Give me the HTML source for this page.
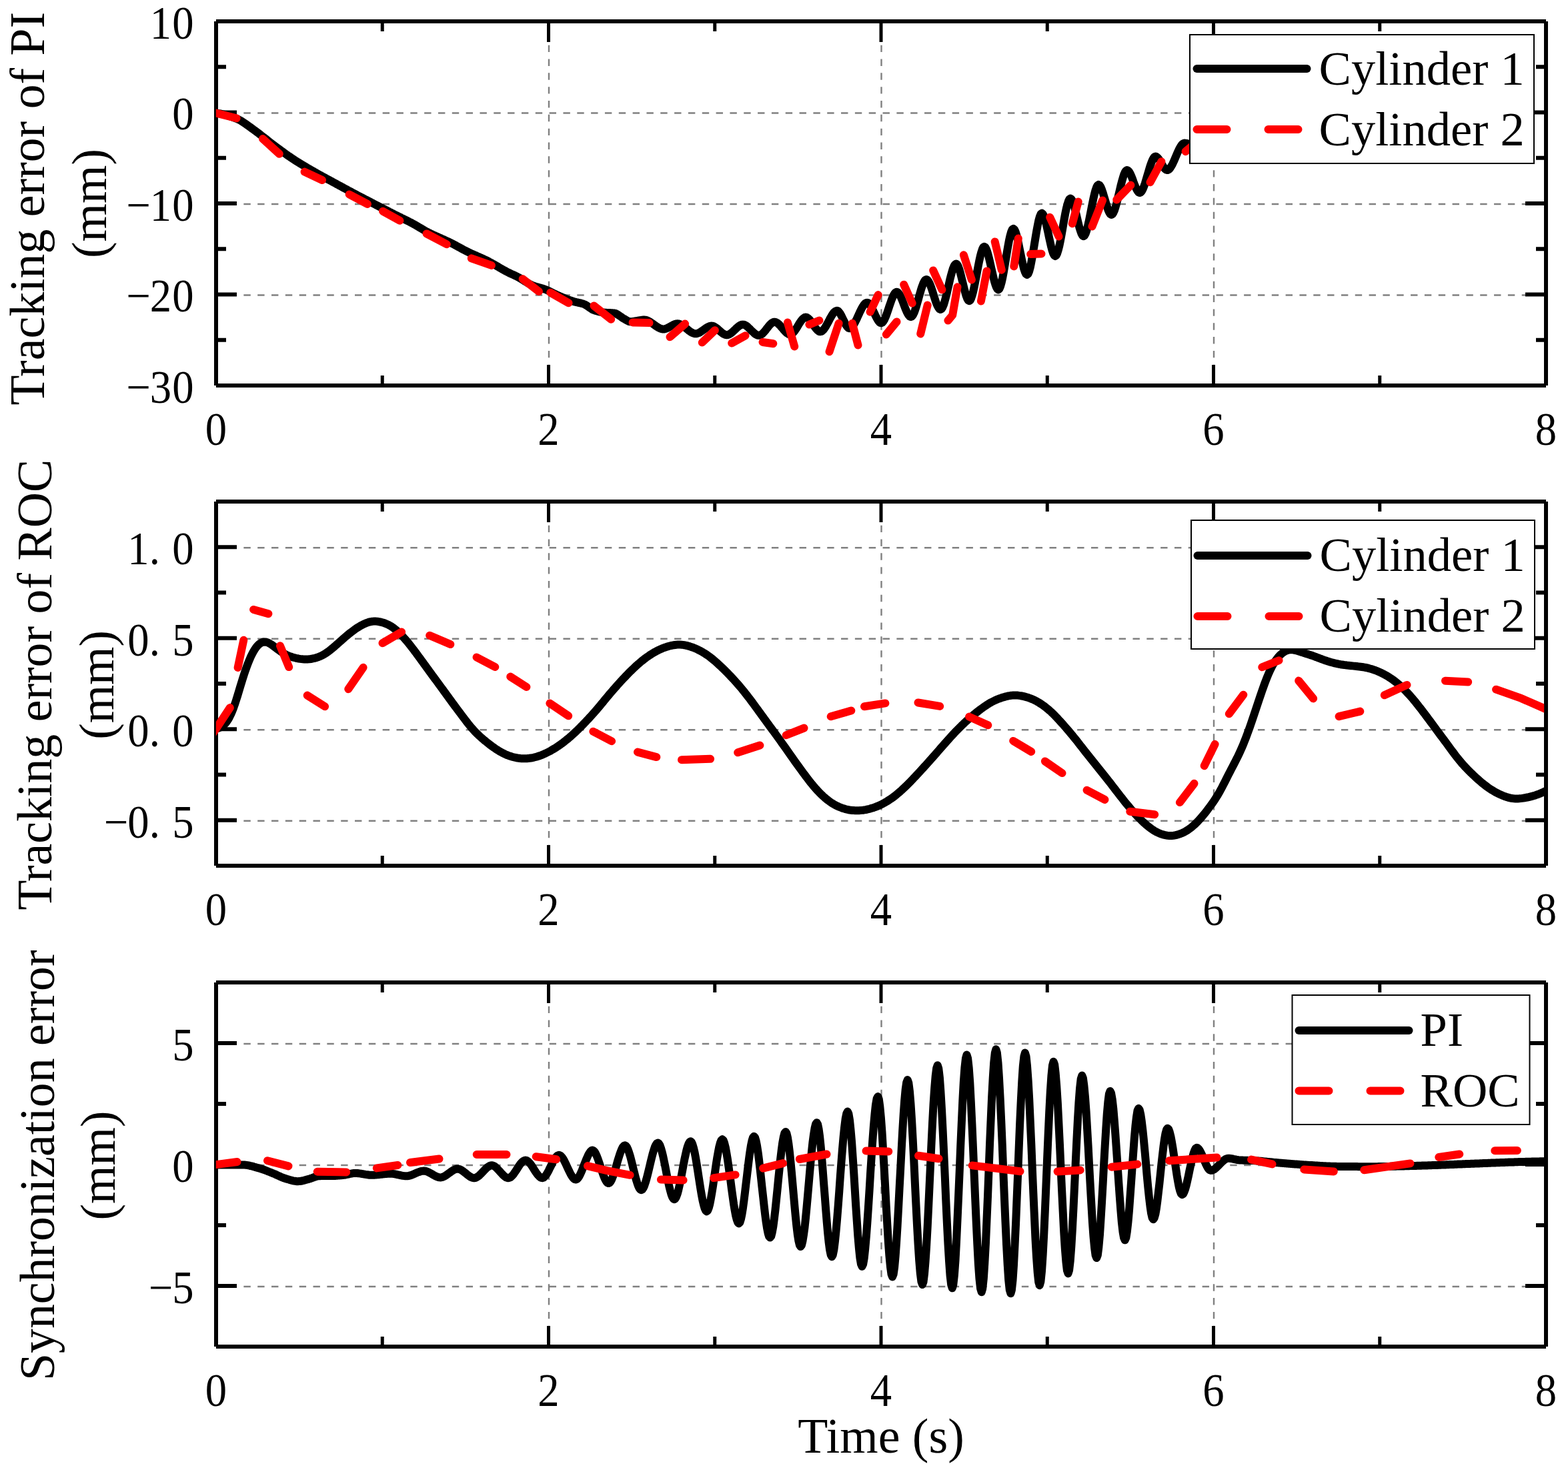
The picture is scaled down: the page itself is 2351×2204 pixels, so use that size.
<!DOCTYPE html>
<html lang="en">
<head>
<meta charset="utf-8">
<title>Tracking and synchronization error</title>
<style>
html,body{margin:0;padding:0;background:#fff}
body{width:2351px;height:2204px;overflow:hidden}
svg{display:block}
text{font-family:"Liberation Serif", serif;fill:#000}
.tl{font-size:69.5px}
.ti{font-size:73.8px}
.lg{font-size:72.5px}
.a{stroke:#000;stroke-width:6;fill:none}
.t{stroke:#000;stroke-width:6;fill:none}
.tx{stroke:#000;stroke-width:5;fill:none}
.g{stroke:#808080;stroke-width:2.4;fill:none;stroke-dasharray:10.4 10.43}
.k{stroke:#000;stroke-width:12;fill:none;stroke-linecap:round;stroke-linejoin:round}
.r{stroke:#f00;stroke-width:12;fill:none;stroke-linecap:round;stroke-linejoin:round}
.lb{fill:#fff;stroke:#000;stroke-width:2}
</style>
</head>
<body>
<svg xmlns="http://www.w3.org/2000/svg" width="2351" height="2204" viewBox="0 0 2351 2204">
<rect width="2351" height="2204" fill="#fff"/>
<defs>
<clipPath id="c0"><rect x="323.8" y="29" width="1991.4" height="552"/></clipPath>
<clipPath id="c1"><rect x="323.8" y="749" width="1991.4" height="552"/></clipPath>
<clipPath id="c2"><rect x="323.8" y="1470" width="1991.4" height="552"/></clipPath>
</defs>
<g>
<path class="g" d="M323.7 169.5H2318"/>
<path class="g" d="M323.7 306H2318"/>
<path class="g" d="M323.7 442.5H2318"/>
<path class="g" d="M823 578V32"/>
<path class="g" d="M1321.5 578V32"/>
<path class="g" d="M1820 578V32"/>
<path class="t" d="M324 168.5h31M2318 168.5h-31M324 305h31M2318 305h-31M324 441.5h31M2318 441.5h-31M324 100.25h15M2318 100.25h-15M324 236.75h15M2318 236.75h-15M324 373.25h15M2318 373.25h-15M324 509.75h15M2318 509.75h-15"/>
<path class="tx" d="M573.25 578v-15M573.25 32v15M822.5 578v-31M822.5 32v31M1071.75 578v-15M1071.75 32v15M1321 578v-31M1321 32v31M1570.25 578v-15M1570.25 32v15M1819.5 578v-31M1819.5 32v31M2068.75 578v-15M2068.75 32v15"/>
<path class="a" d="M324 32H2318M324 578H2318M324 32V578M2318 32V578"/>
<path class="k" clip-path="url(#c0)" d="M318 168.8L319.5 168.9L321 169.1L322.5 169.2L324 169.4L325.5 169.6L327.1 169.9L328.6 170.1L330.1 170.4L331.7 170.7L333.2 171.1L334.7 171.4L336.3 171.8L337.8 172.2L339.4 172.7L340.9 173.1L342.4 173.6L344 174L345.5 174.6L347 175.1L348.6 175.6L350.1 176.2L351.6 176.7L353.2 177.3L354.7 177.9L356.2 178.5L357.7 179.2L359.2 180L360.7 180.8L362.3 181.7L363.8 182.7L365.3 183.7L366.8 184.7L368.3 185.7L369.8 186.8L371.3 187.9L372.8 189L374.4 190.1L375.9 191.2L377.4 192.3L378.9 193.4L380.4 194.5L381.9 195.6L383.4 196.7L384.9 197.8L386.4 198.9L387.9 200L389.4 201.2L390.9 202.4L392.4 203.6L393.9 204.8L395.4 205.9L397 207.1L398.5 208.3L400 209.5L401.5 210.7L403 211.9L404.5 213.1L406 214.3L407.5 215.4L409 216.6L410.5 217.7L412 218.8L413.5 219.9L415 221.1L416.5 222.2L418.1 223.3L419.6 224.4L421.1 225.5L422.6 226.6L424.1 227.7L425.6 228.8L427.1 229.9L428.6 231L430.1 232.1L431.6 233.2L433.1 234.2L434.7 235.2L436.2 236.3L437.7 237.3L439.2 238.3L440.7 239.3L442.2 240.3L443.7 241.2L445.2 242.2L446.7 243.1L448.2 244.1L449.8 245L451.3 245.9L452.8 246.8L454.3 247.7L455.8 248.6L457.3 249.5L458.8 250.4L460.3 251.3L461.8 252.2L463.3 253.1L464.9 253.9L466.4 254.8L467.9 255.7L469.4 256.5L470.9 257.4L472.4 258.3L473.9 259.1L475.4 260L476.9 260.8L478.4 261.7L480 262.5L481.5 263.3L483 264.2L484.5 265L486 265.8L487.5 266.6L489 267.5L490.5 268.3L492 269.1L493.6 269.9L495.1 270.7L496.6 271.5L498.1 272.4L499.6 273.2L501.1 274L502.6 274.8L504.1 275.6L505.6 276.5L507.1 277.3L508.6 278.1L510.2 278.9L511.7 279.7L513.2 280.6L514.7 281.4L516.2 282.2L517.7 283L519.2 283.8L520.7 284.6L522.2 285.5L523.8 286.3L525.3 287.1L526.8 287.9L528.3 288.7L529.8 289.5L531.3 290.3L532.8 291.1L534.3 291.9L535.8 292.7L537.3 293.5L538.8 294.3L540.3 295.1L541.8 295.8L543.3 296.6L544.8 297.4L546.3 298.2L547.9 299L549.4 299.8L550.9 300.5L552.4 301.3L553.9 302.1L555.4 302.9L556.9 303.7L558.4 304.4L559.9 305.2L561.4 306L562.9 306.8L564.4 307.6L565.9 308.3L567.4 309.1L569 309.9L570.5 310.7L572 311.5L573.5 312.2L575 313L576.5 313.8L578 314.6L579.5 315.3L581 316.1L582.5 316.9L584 317.7L585.6 318.4L587.1 319.2L588.6 320L590.1 320.7L591.6 321.5L593.2 322.3L594.8 323.1L596.3 323.9L597.9 324.7L599.5 325.4L601.1 326.2L602.6 327L604.2 327.8L605.8 328.5L607.4 329.3L609 330.1L610.5 330.9L612.1 331.7L613.7 332.5L615.3 333.3L616.8 334.1L618.4 335L620 335.8L621.6 336.7L623.1 337.6L624.7 338.5L626.3 339.4L627.8 340.3L629.4 341.3L631 342.2L632.6 343.2L634.1 344.1L635.7 345L637.3 345.9L638.8 346.8L640.4 347.6L641.9 348.4L643.4 349.1L644.9 349.9L646.4 350.6L647.9 351.3L649.5 352.1L651 352.8L652.5 353.4L654 354.1L655.5 354.8L657 355.5L658.5 356.2L660 356.8L661.5 357.5L663 358.2L664.5 358.8L666 359.5L667.5 360.2L669.1 360.9L670.6 361.6L672.1 362.3L673.6 363L675.1 363.8L676.6 364.5L678.1 365.3L679.6 366L681.1 366.8L682.6 367.6L684.1 368.4L685.6 369.3L687.1 370.1L688.7 370.9L690.2 371.7L691.7 372.6L693.2 373.4L694.7 374.2L696.2 375L697.7 375.8L699.2 376.5L700.7 377.3L702.2 378L703.7 378.8L705.2 379.5L706.7 380.2L708.2 380.8L709.8 381.5L711.3 382.2L712.8 382.8L714.3 383.5L715.8 384.2L717.3 384.8L718.8 385.5L720.3 386.1L721.8 386.8L723.4 387.5L724.9 388.2L726.4 388.9L727.9 389.6L729.4 390.3L730.9 391.1L732.4 391.9L733.9 392.7L735.4 393.5L736.9 394.3L738.5 395.2L740 396L741.5 396.9L743 397.8L744.5 398.6L746 399.5L747.5 400.4L749 401.3L750.5 402.2L752 403L753.5 403.9L755.1 404.8L756.6 405.6L758.1 406.4L759.6 407.2L761.1 408L762.6 408.8L764.1 409.5L765.6 410.2L767.1 410.9L768.7 411.6L770.2 412.3L771.7 413L773.2 413.7L774.7 414.4L776.2 415.2L777.7 416L779.2 416.9L780.7 417.7L782.2 418.7L783.7 419.6L785.2 420.6L786.7 421.5L788.3 422.5L789.8 423.4L791.3 424.3L792.8 425.2L794.3 426L795.8 426.8L797.3 427.5L798.8 428.1L800.3 428.7L801.8 429.2L803.3 429.7L804.8 430.1L806.3 430.5L807.8 431L809.4 431.4L810.9 431.8L812.4 432.2L813.9 432.7L815.4 433.2L816.9 433.7L818.4 434.3L819.9 434.9L821.4 435.6L822.9 436.3L824.4 437L825.9 437.8L827.5 438.5L829 439.3L830.5 440.1L832 440.8L833.5 441.5L835 442.2L836.5 442.9L838 443.5L839.5 444.2L841 444.8L842.6 445.5L844.1 446.1L845.6 446.8L847.1 447.4L848.6 448L850.1 448.6L851.6 449.2L853.1 449.7L854.7 450.3L856.2 450.8L857.7 451.3L859.2 451.8L860.8 452.3L862.5 452.7L864.1 453.1L865.7 453.4L867.4 453.8L869 454.2L870.6 454.5L872.2 455L873.9 455.4L875.5 456L877 456.6L878.5 457.5L880 458.4L881.5 459.5L883 460.5L884.5 461.6L886 462.6L887.5 463.6L889 464.4L890.5 465L892 465.5L893.5 466L895 466.4L896.5 466.9L898 467.3L899.6 467.6L901.1 467.9L902.6 468.2L904.1 468.4L905.6 468.6L907.1 468.7L908.6 468.8L910.1 468.9L911.6 469L913.2 469L914.7 469.1L916.2 469.2L917.7 469.2L919.2 469.4L920.7 469.5L922.2 469.8L923.7 470.3L925.2 471.1L926.7 472L928.2 473L929.8 474.1L931.3 475.1L932.8 476.2L934.3 477.2L935.8 478L937.3 478.9L938.8 479.8L940.3 480.7L941.9 481.5L943.4 482.1L944.9 482.3L946.4 482.3L947.9 482.2L949.4 482L950.9 481.8L952.4 481.5L953.9 481.2L955.5 481L957 480.7L958.5 480.4L960 480.1L961.5 479.9L963 479.7L964.5 479.6L966 479.6L967.5 479.7L969 480L970.5 480.5L972 481.2L973.6 482L975.1 482.9L976.6 483.9L978.1 484.9L979.6 486L981.1 487.1L982.6 488.2L984.1 489.2L985.6 490.2L987.1 491.1L988.7 491.9L990.2 492.6L991.7 493.1L993.2 493.4L994.7 493.5L996.2 493.4L997.7 493L999.2 492.5L1000.7 491.9L1002.2 491.1L1003.7 490.3L1005.2 489.4L1006.8 488.5L1008.3 487.7L1009.8 486.9L1011.3 486.3L1012.8 485.8L1014.3 485.4L1015.8 485.3L1017.3 485.4L1018.8 485.8L1020.3 486.4L1021.8 487.2L1023.4 488.1L1024.9 489.2L1026.4 490.3L1027.9 491.6L1029.4 492.8L1030.9 494L1032.4 495.3L1033.9 496.4L1035.4 497.5L1037 498.4L1038.5 499.2L1040 499.8L1041.5 500.2L1043 500.3L1044.5 500.2L1046 499.8L1047.5 499.2L1049 498.5L1050.5 497.6L1052 496.6L1053.5 495.5L1055 494.5L1056.5 493.4L1058 492.3L1059.5 491.3L1061 490.4L1062.5 489.7L1064 489.1L1065.5 488.7L1067 488.6L1068.5 488.8L1070 489.3L1071.5 490L1073.1 491L1074.6 492.1L1076.1 493.4L1077.6 494.7L1079.1 496.1L1080.6 497.4L1082.1 498.7L1083.6 499.8L1085.2 500.8L1086.7 501.5L1088.2 502L1089.7 502.2L1091.2 502L1092.7 501.5L1094.2 500.8L1095.7 499.8L1097.2 498.6L1098.7 497.3L1100.2 495.9L1101.8 494.4L1103.3 492.9L1104.8 491.5L1106.3 490.2L1107.8 489L1109.3 488L1110.8 487.3L1112.3 486.8L1113.8 486.6L1115.3 486.8L1116.8 487.3L1118.3 488.1L1119.8 489.1L1121.3 490.4L1122.8 491.8L1124.3 493.2L1125.8 494.8L1127.4 496.3L1128.9 497.7L1130.4 499.1L1131.9 500.4L1133.4 501.4L1134.9 502.2L1136.4 502.7L1137.9 502.9L1139.5 502.6L1141 501.9L1142.6 500.8L1144.1 499.4L1145.7 497.7L1147.3 495.8L1148.8 493.8L1150.4 491.8L1151.9 489.8L1153.5 487.9L1155.1 486.2L1156.6 484.8L1158.2 483.7L1159.7 483L1161.3 482.7L1162.9 482.9L1164.4 483.6L1166 484.6L1167.5 486L1169.1 487.5L1170.7 489.3L1172.2 491.1L1173.8 493L1175.3 494.8L1176.9 496.6L1178.5 498.1L1180 499.5L1181.6 500.5L1183.1 501.2L1184.7 501.4L1186.3 501.1L1187.8 500.1L1189.4 498.7L1190.9 496.9L1192.5 494.7L1194.1 492.3L1195.6 489.8L1197.2 487.2L1198.7 484.7L1200.3 482.3L1201.9 480.1L1203.4 478.3L1205 476.9L1206.5 475.9L1208.1 475.6L1209.7 475.9L1211.2 476.8L1212.8 478.2L1214.4 479.9L1215.9 481.9L1217.5 484.1L1219 486.5L1220.6 488.8L1222.2 491L1223.7 493L1225.3 494.7L1226.9 496.1L1228.4 497L1230 497.3L1231.6 496.9L1233.1 495.9L1234.7 494.4L1236.2 492.4L1237.8 490L1239.3 487.3L1240.9 484.5L1242.5 481.6L1244 478.6L1245.6 475.8L1247.1 473.1L1248.7 470.7L1250.2 468.7L1251.8 467.2L1253.3 466.2L1254.9 465.8L1256.5 466.3L1258 467.8L1259.6 469.9L1261.2 472.7L1262.7 475.8L1264.3 479.1L1265.9 482.3L1267.4 485.4L1269 488.2L1270.6 490.3L1272.1 491.8L1273.7 492.3L1275.3 491.9L1276.8 490.8L1278.4 489.1L1279.9 486.9L1281.5 484.2L1283 481.3L1284.6 478.1L1286.1 474.7L1287.7 471.3L1289.2 467.9L1290.8 464.7L1292.3 461.8L1293.9 459.1L1295.4 456.9L1297 455.2L1298.5 454.1L1300.1 453.7L1301.6 454.1L1303.1 455.4L1304.6 457.3L1306.1 459.8L1307.6 462.6L1309.1 465.7L1310.7 469L1312.2 472.3L1313.7 475.4L1315.2 478.2L1316.7 480.7L1318.2 482.6L1319.7 483.9L1321.2 484.3L1322.8 483.7L1324.3 482L1325.9 479.5L1327.4 476.1L1329 472.2L1330.5 467.9L1332.1 463.3L1333.6 458.7L1335.2 454.1L1336.7 449.8L1338.3 445.9L1339.8 442.5L1341.4 440L1342.9 438.3L1344.5 437.7L1346 438.2L1347.5 439.8L1349 442.1L1350.6 445.1L1352.1 448.6L1353.6 452.4L1355.1 456.4L1356.6 460.4L1358.1 464.2L1359.6 467.7L1361.2 470.7L1362.7 473L1364.2 474.6L1365.7 475.1L1367.3 474.4L1368.8 472.4L1370.4 469.3L1371.9 465.3L1373.5 460.6L1375 455.4L1376.6 449.9L1378.1 444.2L1379.7 438.7L1381.2 433.5L1382.8 428.8L1384.3 424.8L1385.9 421.7L1387.4 419.7L1389 419L1390.5 419.7L1392 421.5L1393.5 424.3L1395.1 427.9L1396.6 432.1L1398.1 436.7L1399.6 441.5L1401.1 446.3L1402.6 450.9L1404.1 455.1L1405.7 458.7L1407.2 461.5L1408.7 463.3L1410.2 464L1411.8 463.1L1413.3 460.7L1414.9 456.9L1416.4 452L1418 446.2L1419.6 439.9L1421.1 433.2L1422.7 426.3L1424.2 419.6L1425.8 413.3L1427.4 407.5L1428.9 402.6L1430.5 398.8L1432 396.4L1433.6 395.5L1435.1 396.4L1436.6 399L1438.1 403L1439.6 408.1L1441.1 413.9L1442.6 420.1L1444.2 426.6L1445.7 432.8L1447.2 438.6L1448.7 443.7L1450.2 447.7L1451.7 450.3L1453.2 451.2L1454.7 450.2L1456.2 447.2L1457.7 442.7L1459.2 436.9L1460.7 430.1L1462.2 422.5L1463.7 414.6L1465.3 406.4L1466.8 398.5L1468.3 390.9L1469.8 384.1L1471.3 378.3L1472.8 373.8L1474.3 370.8L1475.8 369.8L1477.3 370.7L1478.8 373.4L1480.3 377.4L1481.8 382.6L1483.3 388.6L1484.8 395.2L1486.3 402.1L1487.9 408.9L1489.4 415.5L1490.9 421.5L1492.4 426.7L1493.9 430.7L1495.4 433.4L1496.9 434.3L1498.5 433L1500.1 429.2L1501.7 423.5L1503.3 416.2L1504.9 407.6L1506.5 398.3L1508.1 388.6L1509.7 378.8L1511.3 369.5L1512.9 360.9L1514.5 353.6L1516.1 347.9L1517.7 344.1L1519.3 342.8L1520.9 344L1522.5 347.2L1524.1 352.1L1525.6 358.4L1527.2 365.6L1528.8 373.4L1530.4 381.3L1532 389.1L1533.6 396.3L1535.1 402.6L1536.7 407.5L1538.3 410.7L1539.9 411.9L1541.5 410.6L1543.1 406.8L1544.7 401L1546.2 393.6L1547.8 385L1549.4 375.6L1551 365.8L1552.6 356L1554.2 346.6L1555.8 338L1557.3 330.6L1558.9 324.8L1560.5 321L1562.1 319.7L1563.6 320.8L1565.2 323.8L1566.7 328.4L1568.3 334.2L1569.8 340.9L1571.4 348.1L1572.9 355.6L1574.5 362.8L1576 369.5L1577.6 375.3L1579.1 379.9L1580.7 382.9L1582.2 384L1583.7 382.9L1585.2 379.8L1586.7 375L1588.3 368.8L1589.8 361.6L1591.3 353.6L1592.8 345.1L1594.3 336.4L1595.8 327.9L1597.3 319.9L1598.8 312.7L1600.4 306.5L1601.9 301.7L1603.4 298.6L1604.9 297.5L1606.4 298.5L1607.9 301.1L1609.4 305.2L1611 310.3L1612.5 316.2L1614 322.6L1615.5 329.1L1617 335.5L1618.5 341.4L1620.1 346.5L1621.6 350.6L1623.1 353.2L1624.6 354.2L1626.1 353.2L1627.6 350.4L1629.1 346.2L1630.6 340.6L1632.1 334.2L1633.6 327L1635.1 319.4L1636.6 311.7L1638.1 304.1L1639.6 296.9L1641.1 290.5L1642.6 284.9L1644.1 280.7L1645.6 277.9L1647.1 276.9L1648.7 277.8L1650.3 280.2L1651.9 283.9L1653.5 288.6L1655.1 293.9L1656.8 299.4L1658.4 305L1660 310.3L1661.6 315L1663.2 318.7L1664.8 321.1L1666.4 322L1668 321.1L1669.5 318.7L1671.1 315L1672.6 310.2L1674.2 304.6L1675.8 298.4L1677.3 291.8L1678.9 285.2L1680.4 278.6L1682 272.4L1683.6 266.8L1685.1 262L1686.7 258.3L1688.2 255.9L1689.8 255L1691.4 255.7L1693 257.5L1694.6 260.3L1696.2 263.8L1697.8 267.8L1699.3 272.1L1700.9 276.3L1702.5 280.3L1704.1 283.8L1705.7 286.6L1707.3 288.4L1708.9 289.1L1710.5 288.4L1712 286.5L1713.6 283.4L1715.2 279.5L1716.8 275L1718.3 269.9L1719.9 264.6L1721.5 259.1L1723.1 253.8L1724.6 248.7L1726.2 244.2L1727.8 240.3L1729.4 237.2L1730.9 235.3L1732.5 234.6L1734.1 235.1L1735.7 236.4L1737.3 238.3L1738.9 240.8L1740.5 243.5L1742.1 246.2L1743.7 248.9L1745.3 251.4L1746.9 253.3L1748.5 254.6L1750.1 255.1L1751.6 254.7L1753.1 253.6L1754.6 251.8L1756.1 249.4L1757.7 246.7L1759.2 243.5L1760.7 240.2L1762.2 236.6L1763.7 233.1L1765.2 229.5L1766.7 226.2L1768.2 223L1769.8 220.3L1771.3 217.9L1772.8 216.1L1774.3 215L1775.8 214.6L1777.4 214.7L1779 214.9L1780.7 215.3L1782.3 215.7L1783.9 216.2L1785.5 216.8L1787.1 217.4L1788.8 218L1790.4 218.5L1792 219"/>
<path class="r" clip-path="url(#c0)" d="M316 168L324 169.6L354.6 177.3M394 208.1L418.8 230.7M456.6 257.6L483 270M523.7 291.5L550.9 305.9M574 316.7L599.4 330.8M639.6 350.4L669.8 366.2M706.8 387.3L736.9 397.9M783.7 418.3L807.9 437.1M825.3 438.7L852.5 454.2M890.5 458.5L916.2 478.8M948.6 483.4L973.5 484.1M1004.5 505.2L1027.1 485.6M1052.8 513.5L1071.9 495.2M1097.2 514.5L1117.5 503.2M1143.5 513L1159.3 515.2M1180.9 483.6L1191.2 519.5M1213.4 486.6L1228.4 480.5M1243.5 527.3L1257.6 484.8M1277.9 484.8L1286.5 517.5M1304.6 467.7L1316.7 442.1M1328.8 501.5L1344.5 482.4M1355.2 426.7L1367.7 454.6M1380.2 500.5L1390.7 457.5M1399.2 405.4L1412.4 434.3M1421.4 480.6L1428.2 472.5L1435.5 430.3M1444.9 382.3L1456.9 419.5M1470.9 451.5L1479.5 406.4M1491.7 362.4L1501.8 404.7M1520.3 399.4L1526.8 357.5M1545.2 381L1561.5 380.5M1574.2 325.8L1587.5 354.6M1607.8 335.2L1616.7 302.5M1637.5 339.5L1653.1 300.4M1674.2 299.5L1695.4 277.6M1724.5 273.3L1741.4 242.3M1777.6 227.2L1792 215"/>
<rect class="lb" x="1784" y="52" width="516" height="193"/>
<path class="k" d="M1794.5 103H1959.5"/>
<path class="r" d="M1794.5 194h45M1901.5 194h45"/>
<text class="lg" x="1977.6" y="127">Cylinder 1</text>
<text class="lg" x="1977.6" y="218">Cylinder 2</text>
<text class="tl" text-anchor="middle" transform="scale(0.93 1)" y="57.8"><tspan x="259.03">1</tspan><tspan x="294.95">0</tspan></text>
<text class="tl" text-anchor="middle" transform="scale(0.93 1)" y="194.3"><tspan x="294.95">0</tspan></text>
<text class="tl" text-anchor="middle" transform="scale(0.93 1)" y="330.8"><tspan x="223.12">−</tspan><tspan x="259.03">1</tspan><tspan x="294.95">0</tspan></text>
<text class="tl" text-anchor="middle" transform="scale(0.93 1)" y="467.3"><tspan x="223.12">−</tspan><tspan x="259.03">2</tspan><tspan x="294.95">0</tspan></text>
<text class="tl" text-anchor="middle" transform="scale(0.93 1)" y="603.8"><tspan x="223.12">−</tspan><tspan x="259.03">3</tspan><tspan x="294.95">0</tspan></text>
<text class="tl" text-anchor="middle" transform="scale(0.93 1)" y="667.5"><tspan x="348.39">0</tspan></text>
<text class="tl" text-anchor="middle" transform="scale(0.93 1)" y="667.5"><tspan x="884.41">2</tspan></text>
<text class="tl" text-anchor="middle" transform="scale(0.93 1)" y="667.5"><tspan x="1420.43">4</tspan></text>
<text class="tl" text-anchor="middle" transform="scale(0.93 1)" y="667.5"><tspan x="1956.45">6</tspan></text>
<text class="tl" text-anchor="middle" transform="scale(0.93 1)" y="667.5"><tspan x="2492.47">8</tspan></text>
<text class="ti" text-anchor="middle" transform="translate(65.6 312.6) rotate(-90)">Tracking error of PI</text>
<text class="ti" text-anchor="middle" transform="translate(158.6 305) rotate(-90)">(mm)</text>
</g>
<g>
<path class="g" d="M323.7 821.25H2318"/>
<path class="g" d="M323.7 957.75H2318"/>
<path class="g" d="M323.7 1094.25H2318"/>
<path class="g" d="M323.7 1230.75H2318"/>
<path class="g" d="M823 1298V752"/>
<path class="g" d="M1321.5 1298V752"/>
<path class="g" d="M1820 1298V752"/>
<path class="t" d="M324 820.25h31M2318 820.25h-31M324 956.75h31M2318 956.75h-31M324 1093.25h31M2318 1093.25h-31M324 1229.75h31M2318 1229.75h-31M324 888.5h15M2318 888.5h-15M324 1025h15M2318 1025h-15M324 1161.5h15M2318 1161.5h-15"/>
<path class="tx" d="M573.25 1298v-15M573.25 752v15M822.5 1298v-31M822.5 752v31M1071.75 1298v-15M1071.75 752v15M1321 1298v-31M1321 752v31M1570.25 1298v-15M1570.25 752v15M1819.5 1298v-31M1819.5 752v31M2068.75 1298v-15M2068.75 752v15"/>
<path class="a" d="M324 752H2318M324 1298H2318M324 752V1298M2318 752V1298"/>
<path class="k" clip-path="url(#c1)" d="M318 1094L320 1093.7L322 1093.3L324 1092.8L326 1092.3L328 1091.5L330 1090.7L332 1089.5L334 1088.2L336 1086.5L338 1084.4L340 1081.9L342 1078.9L344 1075.4L346 1071.4L348 1066.8L350 1061.7L352 1056.1L354 1050L356 1043.6L358 1037L360 1030.3L362 1023.7L364 1017.3L366 1011L368 1005.1L370 999.5L372 994.2L374 989.3L376 984.7L378 980.6L380 976.9L382 973.6L384 970.7L386 968.3L388 966.3L390 964.7L392 963.6L394 962.8L396 962.5L398 962.5L400 962.9L402 963.6L404 964.6L406 965.8L408 967.1L410 968.6L412 970.1L414 971.6L416 973.2L418 974.7L420 976.1L422 977.5L424 978.8L426 980L428 981.1L430 982.1L432 983L434 983.8L436 984.5L438 985.2L440 985.8L442 986.3L444 986.8L446 987.2L448 987.6L450 987.9L452 988.1L454 988.3L456 988.4L458 988.5L460 988.5L462 988.4L464 988.2L466 988L468 987.6L470 987.2L472 986.8L474 986.2L476 985.6L478 984.9L480 984L482 983.1L484 982.1L486 981L488 979.7L490 978.4L492 977L494 975.5L496 973.9L498 972.3L500 970.6L502 968.9L504 967.1L506 965.4L508 963.6L510 961.8L512 960.1L514 958.3L516 956.5L518 954.8L520 953.1L522 951.4L524 949.8L526 948.2L528 946.7L530 945.2L532 943.7L534 942.3L536 941L538 939.8L540 938.6L542 937.5L544 936.4L546 935.5L548 934.6L550 933.8L552 933.1L554 932.5L556 932.1L558 931.8L560 931.6L562 931.5L564 931.6L566 931.8L568 932.1L570 932.5L572 932.9L574 933.5L576 934.1L578 934.9L580 935.7L582 936.6L584 937.7L586 938.8L588 940.1L590 941.5L592 943.1L594 944.7L596 946.5L598 948.4L600 950.3L602 952.4L604 954.5L606 956.7L608 959L610 961.3L612 963.7L614 966.2L616 968.7L618 971.3L620 973.9L622 976.6L624 979.2L626 982L628 984.7L630 987.4L632 990.2L634 992.9L636 995.7L638 998.4L640 1001.2L642 1003.9L644 1006.7L646 1009.4L648 1012.2L650 1014.9L652 1017.6L654 1020.3L656 1023L658 1025.8L660 1028.5L662 1031.2L664 1033.9L666 1036.7L668 1039.4L670 1042.2L672 1044.9L674 1047.7L676 1050.4L678 1053.2L680 1055.9L682 1058.6L684 1061.3L686 1064L688 1066.6L690 1069.3L692 1072L694 1074.6L696 1077.3L698 1079.9L700 1082.5L702 1085.1L704 1087.6L706 1090L708 1092.3L710 1094.5L712 1096.7L714 1098.7L716 1100.7L718 1102.6L720 1104.5L722 1106.2L724 1108L726 1109.7L728 1111.3L730 1113L732 1114.5L734 1116.1L736 1117.6L738 1119.1L740 1120.5L742 1121.9L744 1123.3L746 1124.5L748 1125.8L750 1127L752 1128.1L754 1129.1L756 1130.1L758 1131.1L760 1132L762 1132.7L764 1133.5L766 1134.1L768 1134.7L770 1135.2L772 1135.7L774 1136.1L776 1136.5L778 1136.7L780 1137L782 1137.2L784 1137.3L786 1137.3L788 1137.3L790 1137.2L792 1137L794 1136.8L796 1136.5L798 1136.2L800 1135.8L802 1135.3L804 1134.8L806 1134.2L808 1133.5L810 1132.8L812 1132.1L814 1131.3L816 1130.4L818 1129.5L820 1128.5L822 1127.5L824 1126.5L826 1125.4L828 1124.2L830 1123L832 1121.8L834 1120.6L836 1119.2L838 1117.9L840 1116.5L842 1115L844 1113.6L846 1112L848 1110.4L850 1108.8L852 1107.2L854 1105.5L856 1103.7L858 1102L860 1100.1L862 1098.3L864 1096.4L866 1094.5L868 1092.5L870 1090.6L872 1088.5L874 1086.5L876 1084.4L878 1082.3L880 1080.2L882 1078.1L884 1075.9L886 1073.7L888 1071.5L890 1069.2L892 1067L894 1064.7L896 1062.3L898 1060L900 1057.6L902 1055.2L904 1052.8L906 1050.3L908 1047.9L910 1045.5L912 1043.1L914 1040.7L916 1038.4L918 1036.1L920 1033.7L922 1031.5L924 1029.2L926 1026.9L928 1024.7L930 1022.5L932 1020.3L934 1018.2L936 1016.1L938 1014L940 1011.9L942 1009.8L944 1007.8L946 1005.8L948 1003.9L950 1002L952 1000.1L954 998.2L956 996.4L958 994.7L960 993L962 991.3L964 989.7L966 988.1L968 986.6L970 985.2L972 983.8L974 982.4L976 981.1L978 979.9L980 978.7L982 977.5L984 976.4L986 975.4L988 974.4L990 973.5L992 972.6L994 971.8L996 971L998 970.3L1000 969.6L1002 969.1L1004 968.5L1006 968L1008 967.6L1010 967.3L1012 967L1014 966.7L1016 966.6L1018 966.5L1020 966.6L1022 966.7L1024 966.9L1026 967.2L1028 967.6L1030 968L1032 968.6L1034 969.1L1036 969.8L1038 970.5L1040 971.2L1042 972L1044 972.9L1046 973.8L1048 974.8L1050 975.8L1052 976.9L1054 978.1L1056 979.3L1058 980.6L1060 981.9L1062 983.3L1064 984.8L1066 986.4L1068 987.9L1070 989.6L1072 991.3L1074 993L1076 994.8L1078 996.7L1080 998.5L1082 1000.4L1084 1002.3L1086 1004.3L1088 1006.3L1090 1008.3L1092 1010.3L1094 1012.4L1096 1014.5L1098 1016.6L1100 1018.8L1102 1021L1104 1023.2L1106 1025.5L1108 1027.8L1110 1030.1L1112 1032.5L1114 1035L1116 1037.4L1118 1039.9L1120 1042.5L1122 1045.1L1124 1047.7L1126 1050.4L1128 1053L1130 1055.7L1132 1058.5L1134 1061.2L1136 1063.9L1138 1066.7L1140 1069.4L1142 1072.2L1144 1074.9L1146 1077.7L1148 1080.4L1150 1083.2L1152 1085.9L1154 1088.7L1156 1091.4L1158 1094.1L1160 1096.8L1162 1099.6L1164 1102.3L1166 1105.1L1168 1107.8L1170 1110.6L1172 1113.4L1174 1116.2L1176 1119L1178 1121.8L1180 1124.7L1182 1127.5L1184 1130.4L1186 1133.2L1188 1136L1190 1138.9L1192 1141.7L1194 1144.5L1196 1147.3L1198 1150.1L1200 1152.8L1202 1155.5L1204 1158.3L1206 1160.9L1208 1163.6L1210 1166.3L1212 1168.9L1214 1171.4L1216 1174L1218 1176.4L1220 1178.8L1222 1181.2L1224 1183.4L1226 1185.6L1228 1187.7L1230 1189.7L1232 1191.7L1234 1193.6L1236 1195.4L1238 1197.1L1240 1198.7L1242 1200.3L1244 1201.8L1246 1203.2L1248 1204.5L1250 1205.7L1252 1206.8L1254 1207.8L1256 1208.8L1258 1209.7L1260 1210.5L1262 1211.3L1264 1212L1266 1212.6L1268 1213.2L1270 1213.7L1272 1214.1L1274 1214.5L1276 1214.7L1278 1215L1280 1215.1L1282 1215.2L1284 1215.3L1286 1215.3L1288 1215.2L1290 1215.1L1292 1214.9L1294 1214.7L1296 1214.4L1298 1214.1L1300 1213.6L1302 1213.2L1304 1212.7L1306 1212.1L1308 1211.5L1310 1210.9L1312 1210.2L1314 1209.4L1316 1208.6L1318 1207.8L1320 1206.8L1322 1205.9L1324 1204.8L1326 1203.7L1328 1202.6L1330 1201.4L1332 1200.1L1334 1198.8L1336 1197.5L1338 1196.1L1340 1194.6L1342 1193.1L1344 1191.5L1346 1189.8L1348 1188.1L1350 1186.4L1352 1184.6L1354 1182.7L1356 1180.8L1358 1178.9L1360 1176.9L1362 1174.9L1364 1172.9L1366 1170.9L1368 1168.8L1370 1166.7L1372 1164.6L1374 1162.5L1376 1160.3L1378 1158.2L1380 1156L1382 1153.8L1384 1151.6L1386 1149.4L1388 1147.2L1390 1145L1392 1142.8L1394 1140.5L1396 1138.3L1398 1136L1400 1133.7L1402 1131.5L1404 1129.2L1406 1126.9L1408 1124.6L1410 1122.3L1412 1120L1414 1117.8L1416 1115.5L1418 1113.2L1420 1111L1422 1108.7L1424 1106.5L1426 1104.3L1428 1102.1L1430 1100L1432 1097.8L1434 1095.7L1436 1093.7L1438 1091.7L1440 1089.7L1442 1087.7L1444 1085.8L1446 1083.9L1448 1082L1450 1080.2L1452 1078.4L1454 1076.6L1456 1074.9L1458 1073.2L1460 1071.5L1462 1069.9L1464 1068.3L1466 1066.7L1468 1065.1L1470 1063.6L1472 1062.2L1474 1060.7L1476 1059.3L1478 1058L1480 1056.6L1482 1055.4L1484 1054.2L1486 1053L1488 1052L1490 1051L1492 1050L1494 1049.1L1496 1048.3L1498 1047.5L1500 1046.8L1502 1046.1L1504 1045.5L1506 1044.9L1508 1044.3L1510 1043.9L1512 1043.4L1514 1043.1L1516 1042.8L1518 1042.6L1520 1042.5L1522 1042.5L1524 1042.5L1526 1042.6L1528 1042.9L1530 1043.1L1532 1043.5L1534 1043.9L1536 1044.4L1538 1044.9L1540 1045.5L1542 1046.1L1544 1046.8L1546 1047.6L1548 1048.4L1550 1049.3L1552 1050.2L1554 1051.3L1556 1052.4L1558 1053.6L1560 1054.9L1562 1056.2L1564 1057.6L1566 1059L1568 1060.6L1570 1062.2L1572 1063.9L1574 1065.6L1576 1067.4L1578 1069.3L1580 1071.3L1582 1073.3L1584 1075.4L1586 1077.5L1588 1079.7L1590 1081.9L1592 1084.1L1594 1086.3L1596 1088.6L1598 1090.9L1600 1093.2L1602 1095.5L1604 1097.9L1606 1100.3L1608 1102.7L1610 1105.2L1612 1107.6L1614 1110.1L1616 1112.7L1618 1115.2L1620 1117.8L1622 1120.3L1624 1122.9L1626 1125.4L1628 1128L1630 1130.5L1632 1133L1634 1135.5L1636 1138L1638 1140.5L1640 1143L1642 1145.5L1644 1148L1646 1150.5L1648 1153L1650 1155.5L1652 1158L1654 1160.5L1656 1163L1658 1165.5L1660 1168L1662 1170.6L1664 1173.1L1666 1175.7L1668 1178.3L1670 1180.9L1672 1183.5L1674 1186.1L1676 1188.7L1678 1191.2L1680 1193.8L1682 1196.3L1684 1198.9L1686 1201.4L1688 1203.9L1690 1206.3L1692 1208.7L1694 1211.1L1696 1213.5L1698 1215.8L1700 1218L1702 1220.3L1704 1222.4L1706 1224.6L1708 1226.6L1710 1228.6L1712 1230.6L1714 1232.5L1716 1234.3L1718 1236.1L1720 1237.8L1722 1239.4L1724 1240.9L1726 1242.4L1728 1243.8L1730 1245.1L1732 1246.3L1734 1247.4L1736 1248.4L1738 1249.3L1740 1250.1L1742 1250.8L1744 1251.4L1746 1251.9L1748 1252.3L1750 1252.7L1752 1252.9L1754 1253L1756 1253L1758 1252.9L1760 1252.7L1762 1252.3L1764 1251.9L1766 1251.3L1768 1250.7L1770 1250L1772 1249.2L1774 1248.3L1776 1247.3L1778 1246.2L1780 1245L1782 1243.6L1784 1242.2L1786 1240.7L1788 1239L1790 1237.3L1792 1235.5L1794 1233.5L1796 1231.5L1798 1229.3L1800 1227.1L1802 1224.8L1804 1222.4L1806 1219.9L1808 1217.4L1810 1214.8L1812 1212.2L1814 1209.5L1816 1206.8L1818 1204L1820 1201.1L1822 1198.1L1824 1194.9L1826 1191.7L1828 1188.3L1830 1184.7L1832 1181L1834 1177.1L1836 1173.2L1838 1169.2L1840 1165.2L1842 1161.3L1844 1157.4L1846 1153.5L1848 1149.7L1850 1145.9L1852 1142L1854 1138.1L1856 1134.1L1858 1129.9L1860 1125.5L1862 1121L1864 1116.3L1866 1111.3L1868 1106.2L1870 1100.9L1872 1095.5L1874 1089.9L1876 1084.1L1878 1078.3L1880 1072.4L1882 1066.4L1884 1060.4L1886 1054.4L1888 1048.4L1890 1042.5L1892 1036.6L1894 1030.9L1896 1025.4L1898 1020.1L1900 1015L1902 1010.2L1904 1005.8L1906 1001.6L1908 997.8L1910 994.3L1912 991.2L1914 988.4L1916 985.8L1918 983.6L1920 981.6L1922 979.8L1924 978.3L1926 977L1928 976L1930 975.2L1932 974.6L1934 974.3L1936 974.2L1938 974.3L1940 974.6L1942 975L1944 975.5L1946 976.1L1948 976.7L1950 977.3L1952 978L1954 978.6L1956 979.3L1958 979.9L1960 980.5L1962 981.2L1964 981.8L1966 982.5L1968 983.2L1970 983.9L1972 984.6L1974 985.4L1976 986.1L1978 986.9L1980 987.6L1982 988.4L1984 989.1L1986 989.8L1988 990.5L1990 991.2L1992 991.8L1994 992.4L1996 993L1998 993.5L2000 994.1L2002 994.5L2004 995L2006 995.4L2008 995.8L2010 996.2L2012 996.5L2014 996.8L2016 997.1L2018 997.3L2020 997.6L2022 997.8L2024 998L2026 998.2L2028 998.4L2030 998.6L2032 998.8L2034 999L2036 999.3L2038 999.5L2040 999.7L2042 1000L2044 1000.3L2046 1000.6L2048 1001L2050 1001.4L2052 1001.9L2054 1002.5L2056 1003L2058 1003.7L2060 1004.3L2062 1005L2064 1005.8L2066 1006.6L2068 1007.5L2070 1008.4L2072 1009.4L2074 1010.4L2076 1011.4L2078 1012.5L2080 1013.7L2082 1014.9L2084 1016.2L2086 1017.5L2088 1018.9L2090 1020.4L2092 1021.9L2094 1023.5L2096 1025.1L2098 1026.8L2100 1028.6L2102 1030.4L2104 1032.3L2106 1034.3L2108 1036.4L2110 1038.5L2112 1040.6L2114 1042.8L2116 1045.1L2118 1047.4L2120 1049.8L2122 1052.2L2124 1054.7L2126 1057.2L2128 1059.8L2130 1062.3L2132 1064.9L2134 1067.6L2136 1070.2L2138 1072.9L2140 1075.5L2142 1078.2L2144 1080.9L2146 1083.6L2148 1086.3L2150 1089L2152 1091.8L2154 1094.5L2156 1097.2L2158 1099.9L2160 1102.6L2162 1105.3L2164 1107.9L2166 1110.6L2168 1113.3L2170 1116L2172 1118.8L2174 1121.5L2176 1124.2L2178 1126.9L2180 1129.5L2182 1132.2L2184 1134.8L2186 1137.3L2188 1139.8L2190 1142.2L2192 1144.6L2194 1146.8L2196 1149L2198 1151.1L2200 1153.2L2202 1155.2L2204 1157.2L2206 1159.2L2208 1161.1L2210 1163L2212 1164.9L2214 1166.7L2216 1168.5L2218 1170.3L2220 1172L2222 1173.7L2224 1175.3L2226 1176.9L2228 1178.4L2230 1179.9L2232 1181.3L2234 1182.7L2236 1184L2238 1185.2L2240 1186.4L2242 1187.6L2244 1188.6L2246 1189.6L2248 1190.6L2250 1191.5L2252 1192.4L2254 1193.2L2256 1194L2258 1194.7L2260 1195.3L2262 1195.9L2264 1196.4L2266 1196.8L2268 1197.1L2270 1197.3L2272 1197.4L2274 1197.5L2276 1197.4L2278 1197.3L2280 1197.1L2282 1196.9L2284 1196.6L2286 1196.3L2288 1195.9L2290 1195.5L2292 1195.1L2294 1194.6L2296 1194.1L2298 1193.6L2300 1193L2302 1192.4L2304 1191.7L2306 1191L2308 1190.2L2310 1189.4L2312 1188.5L2314 1187.6L2316 1186.6L2318 1185.7L2320 1184.6L2322 1183.6L2324 1182.5L2325 1182"/>
<path class="r" clip-path="url(#c1)" d="M318 1101.5L324 1092.7L344.8 1061.1M356.6 1001L365.3 959.7M380.1 913.9L402.4 920.2M420 968.2L433.2 1000.1M460.7 1042.6L487.1 1059.3M522.3 1033.2L544.6 1000.8M573.5 964.2L602.1 947.5M644.2 952.8L675.3 966.1M714.6 985.5L742.3 1000M765.3 1014.6L789.4 1030M824.4 1054.5L852.2 1073.3M889.4 1096.8L917.1 1111.3M956 1127.6L984.3 1135.1M1022 1139.2L1065.1 1137.8M1106.2 1128.3L1139.4 1117.5M1178.7 1102.3L1205.5 1091.6M1245.7 1074.3L1276.3 1065.5M1296 1059.3L1327.4 1054.4M1376.5 1053.5L1409.2 1058.9M1453.1 1074.6L1481.3 1087.3M1519.2 1110.9L1546.2 1127M1566.9 1141.5L1592.5 1159.1M1629.6 1184.8L1656.4 1198.9M1694.3 1216.8L1731.2 1221.2M1768.9 1203.1L1790.5 1174.8M1805.7 1148.2L1821.6 1115.8M1842.8 1070.3L1864.3 1041.7M1892.3 1000.3L1917.5 990.2M1947.2 1020.6L1969.1 1047.4M2007.6 1074.2L2039.3 1066.6M2075.8 1042.3L2109.5 1026.9M2167 1020.7L2201.2 1022.5M2243.1 1033.7L2280.7 1046.9L2322 1065"/>
<rect class="lb" x="1786" y="780" width="515" height="193"/>
<path class="k" d="M1795.5 833H1960.5"/>
<path class="r" d="M1795.5 924h45M1902.5 924h45"/>
<text class="lg" x="1978.6" y="856">Cylinder 1</text>
<text class="lg" x="1978.6" y="947">Cylinder 2</text>
<text class="tl" text-anchor="middle" transform="scale(0.93 1)" y="846.05"><tspan x="223.12">1</tspan><tspan x="257.96" text-anchor="middle">. </tspan><tspan x="294.95">0</tspan></text>
<text class="tl" text-anchor="middle" transform="scale(0.93 1)" y="982.55"><tspan x="223.12">0</tspan><tspan x="257.96" text-anchor="middle">. </tspan><tspan x="294.95">5</tspan></text>
<text class="tl" text-anchor="middle" transform="scale(0.93 1)" y="1119.05"><tspan x="223.12">0</tspan><tspan x="257.96" text-anchor="middle">. </tspan><tspan x="294.95">0</tspan></text>
<text class="tl" text-anchor="middle" transform="scale(0.93 1)" y="1255.55"><tspan x="187.2">−</tspan><tspan x="223.12">0</tspan><tspan x="257.96" text-anchor="middle">. </tspan><tspan x="294.95">5</tspan></text>
<text class="tl" text-anchor="middle" transform="scale(0.93 1)" y="1387.5"><tspan x="348.39">0</tspan></text>
<text class="tl" text-anchor="middle" transform="scale(0.93 1)" y="1387.5"><tspan x="884.41">2</tspan></text>
<text class="tl" text-anchor="middle" transform="scale(0.93 1)" y="1387.5"><tspan x="1420.43">4</tspan></text>
<text class="tl" text-anchor="middle" transform="scale(0.93 1)" y="1387.5"><tspan x="1956.45">6</tspan></text>
<text class="tl" text-anchor="middle" transform="scale(0.93 1)" y="1387.5"><tspan x="2492.47">8</tspan></text>
<text class="ti" text-anchor="middle" transform="translate(76.9 1026.7) rotate(-90)">Tracking error of ROC</text>
<text class="ti" text-anchor="middle" transform="translate(169.9 1026.9) rotate(-90)">(mm)</text>
</g>
<g>
<path class="g" d="M323.7 1565H2318"/>
<path class="g" d="M323.7 1747H2318"/>
<path class="g" d="M323.7 1929H2318"/>
<path class="g" d="M823 2019V1473"/>
<path class="g" d="M1321.5 2019V1473"/>
<path class="g" d="M1820 2019V1473"/>
<path class="t" d="M324 1564h31M2318 1564h-31M324 1746h31M2318 1746h-31M324 1928h31M2318 1928h-31M324 1655h15M2318 1655h-15M324 1837h15M2318 1837h-15"/>
<path class="tx" d="M573.25 2019v-15M573.25 1473v15M822.5 2019v-31M822.5 1473v31M1071.75 2019v-15M1071.75 1473v15M1321 2019v-31M1321 1473v31M1570.25 2019v-15M1570.25 1473v15M1819.5 2019v-31M1819.5 1473v31M2068.75 2019v-15M2068.75 1473v15"/>
<path class="a" d="M324 1473H2318M324 2019H2318M324 1473V2019M2318 1473V2019"/>
<path class="k" clip-path="url(#c2)" d="M318 1746.6L319.9 1746.6L321.9 1746.6L323.8 1746.6L325.3 1746.6L326.9 1746.6L328.4 1746.6L329.9 1746.6L331.5 1746.6L333 1746.6L334.6 1746.6L336.1 1746.6L337.6 1746.6L339.2 1746.6L340.7 1746.6L342.2 1746.6L343.8 1746.6L345.3 1746.6L346.9 1746.6L348.4 1746.6L349.9 1746.6L351.5 1746.6L353 1746.6L354.5 1746.6L356.1 1746.6L357.6 1746.6L359.2 1746.6L360.7 1746.6L362.2 1746.6L363.8 1746.6L365.3 1746.6L366.8 1746.6L368.3 1746.7L369.8 1746.9L371.3 1747.1L372.8 1747.4L374.3 1747.7L375.8 1748.1L377.4 1748.4L378.9 1748.8L380.4 1749.3L381.9 1749.7L383.4 1750.1L384.9 1750.6L386.4 1751L387.9 1751.4L389.4 1751.8L390.9 1752.3L392.4 1752.8L393.9 1753.3L395.4 1753.8L396.9 1754.3L398.4 1754.9L400 1755.5L401.5 1756.1L403 1756.7L404.5 1757.3L406 1757.9L407.5 1758.5L409 1759.1L410.5 1759.7L412 1760.3L413.5 1761L415 1761.7L416.5 1762.4L418.1 1763.1L419.6 1763.8L421.1 1764.5L422.6 1765.1L424.1 1765.7L425.6 1766.2L427.1 1766.7L428.6 1767.2L430.1 1767.7L431.7 1768.1L433.2 1768.6L434.7 1769.1L436.2 1769.5L437.7 1769.9L439.2 1770.3L440.7 1770.6L442.3 1770.8L443.8 1771L445.3 1771.2L446.8 1771.2L448.3 1771.1L449.8 1771L451.3 1770.8L452.8 1770.5L454.3 1770.1L455.8 1769.8L457.3 1769.4L458.8 1768.9L460.3 1768.5L461.8 1768.1L463.3 1767.7L464.8 1767.3L466.3 1766.8L467.8 1766.2L469.3 1765.6L470.9 1765L472.4 1764.5L473.9 1764L475.4 1763.6L476.9 1763.3L478.4 1763.2L479.9 1763.2L481.4 1763.1L482.9 1763.1L484.5 1763.1L486 1763.1L487.5 1763.1L489 1763L490.5 1763L492 1763L493.5 1763L495 1763L496.6 1763L498.1 1763L499.6 1762.9L501.1 1762.9L502.6 1762.9L504.1 1762.8L505.6 1762.7L507.1 1762.6L508.7 1762.5L510.2 1762.3L511.7 1762.2L513.2 1762L514.7 1761.9L516.2 1761.7L517.7 1761.5L519.2 1761.2L520.7 1760.9L522.2 1760.6L523.7 1760.2L525.3 1759.9L526.8 1759.6L528.3 1759.3L529.8 1759.1L531.3 1759L532.8 1758.9L534.3 1758.9L535.8 1759L537.3 1759.2L538.8 1759.4L540.3 1759.6L541.8 1759.8L543.3 1760.1L544.8 1760.3L546.4 1760.6L547.9 1760.9L549.4 1761.1L550.9 1761.3L552.4 1761.5L553.9 1761.7L555.4 1761.8L556.9 1761.8L558.4 1761.8L559.9 1761.7L561.4 1761.7L562.9 1761.6L564.5 1761.4L566 1761.3L567.5 1761.2L569 1761L570.5 1760.8L572 1760.7L573.5 1760.5L575 1760.3L576.5 1760.2L578 1760.1L579.6 1759.9L581.1 1759.8L582.6 1759.8L584.1 1759.7L585.6 1759.7L587.2 1759.7L588.8 1759.9L590.4 1760.1L591.9 1760.3L593.5 1760.6L595.1 1761L596.7 1761.3L598.3 1761.7L599.9 1762L601.5 1762.4L603.1 1762.7L604.6 1762.9L606.2 1763.1L607.8 1763.3L609.4 1763.3L610.9 1763.2L612.5 1763L614 1762.7L615.5 1762.2L617.1 1761.7L618.6 1761.1L620.1 1760.5L621.7 1759.8L623.2 1759.1L624.8 1758.4L626.3 1757.8L627.8 1757.2L629.4 1756.7L630.9 1756.2L632.4 1755.9L634 1755.7L635.5 1755.6L637.1 1755.7L638.6 1756L640.2 1756.5L641.7 1757.1L643.3 1757.9L644.8 1758.7L646.4 1759.6L648 1760.5L649.5 1761.4L651.1 1762.3L652.6 1763.1L654.2 1763.9L655.7 1764.5L657.3 1765L658.8 1765.3L660.4 1765.4L661.9 1765.3L663.4 1764.9L664.9 1764.3L666.4 1763.6L667.9 1762.7L669.4 1761.7L670.9 1760.6L672.4 1759.5L674 1758.4L675.5 1757.3L677 1756.2L678.5 1755.2L680 1754.3L681.5 1753.6L683 1753L684.5 1752.6L686 1752.5L687.6 1752.7L689.1 1753.1L690.7 1753.8L692.2 1754.6L693.8 1755.7L695.3 1756.8L696.9 1758.1L698.5 1759.3L700 1760.6L701.6 1761.9L703.1 1763L704.7 1764.1L706.2 1764.9L707.8 1765.6L709.3 1766L710.9 1766.2L712.5 1766L714 1765.5L715.6 1764.6L717.1 1763.6L718.7 1762.3L720.2 1760.8L721.8 1759.2L723.3 1757.6L724.9 1755.9L726.4 1754.3L728 1752.7L729.5 1751.2L731.1 1749.9L732.6 1748.9L734.2 1748L735.7 1747.5L737.3 1747.3L738.9 1747.5L740.4 1748.1L742 1749L743.5 1750.3L745.1 1751.7L746.6 1753.3L748.2 1755L749.8 1756.8L751.3 1758.5L752.9 1760.2L754.4 1761.8L756 1763.2L757.5 1764.5L759.1 1765.4L760.6 1766L762.2 1766.2L763.7 1765.9L765.2 1765.2L766.7 1764L768.2 1762.5L769.8 1760.7L771.3 1758.6L772.8 1756.4L774.3 1754.1L775.8 1751.7L777.3 1749.4L778.8 1747.2L780.3 1745.1L781.9 1743.3L783.4 1741.8L784.9 1740.6L786.4 1739.9L787.9 1739.6L789.5 1739.9L791 1740.7L792.6 1742.1L794.2 1743.8L795.8 1745.8L797.4 1748L798.9 1750.4L800.5 1752.9L802.1 1755.4L803.6 1757.8L805.2 1760L806.8 1762L808.4 1763.7L810 1765.1L811.5 1765.9L813.1 1766.2L814.7 1765.8L816.2 1764.7L817.8 1763L819.4 1760.8L820.9 1758.2L822.5 1755.3L824 1752.2L825.6 1749L827.2 1745.8L828.7 1742.7L830.3 1739.8L831.9 1737.2L833.4 1735L835 1733.3L836.5 1732.2L838.1 1731.8L839.7 1732.2L841.2 1733.4L842.8 1735.2L844.4 1737.5L846 1740.3L847.5 1743.4L849.1 1746.7L850.7 1750.2L852.3 1753.6L853.9 1756.9L855.4 1760L857 1762.8L858.6 1765.1L860.1 1766.9L861.7 1768.1L863.3 1768.5L864.9 1768L866.4 1766.6L868 1764.4L869.6 1761.6L871.1 1758.3L872.7 1754.6L874.3 1750.6L875.8 1746.5L877.4 1742.5L879 1738.5L880.6 1734.8L882.1 1731.5L883.7 1728.7L885.3 1726.5L886.8 1725.1L888.4 1724.6L889.9 1725.2L891.4 1726.7L892.9 1729.2L894.4 1732.3L895.9 1736.1L897.4 1740.3L898.9 1744.7L900.4 1749.3L901.9 1754L903.4 1758.4L904.9 1762.6L906.4 1766.4L907.9 1769.5L909.4 1772L910.9 1773.5L912.4 1774.1L913.9 1773.5L915.5 1771.7L917 1768.9L918.5 1765.2L920.1 1760.9L921.6 1756.1L923.2 1751L924.7 1745.7L926.2 1740.4L927.8 1735.3L929.3 1730.5L930.9 1726.2L932.4 1722.5L933.9 1719.7L935.5 1717.9L937 1717.3L938.5 1718.1L940.1 1720.2L941.6 1723.5L943.1 1727.8L944.7 1732.8L946.2 1738.5L947.7 1744.5L949.2 1750.8L950.8 1757L952.3 1763L953.8 1768.7L955.4 1773.7L956.9 1778L958.4 1781.3L960 1783.4L961.5 1784.2L963.1 1783.4L964.6 1781.2L966.2 1777.7L967.7 1773.2L969.3 1767.8L970.8 1761.9L972.4 1755.5L974 1748.9L975.5 1742.3L977.1 1735.9L978.6 1730L980.2 1724.6L981.7 1720.1L983.3 1716.6L984.8 1714.4L986.4 1713.6L987.9 1714.6L989.5 1717.2L991 1721.4L992.5 1726.8L994.1 1733.2L995.6 1740.4L997.2 1748L998.7 1755.9L1000.2 1763.8L1001.8 1771.4L1003.3 1778.6L1004.9 1785L1006.4 1790.4L1007.9 1794.6L1009.5 1797.2L1011 1798.2L1012.5 1797.2L1014 1794.5L1015.6 1790.2L1017.1 1784.6L1018.6 1778L1020.2 1770.7L1021.7 1762.9L1023.2 1754.8L1024.7 1746.6L1026.2 1738.8L1027.8 1731.5L1029.3 1724.9L1030.8 1719.3L1032.4 1715L1033.9 1712.3L1035.4 1711.3L1036.9 1712.5L1038.4 1715.8L1039.9 1721L1041.5 1727.7L1043 1735.7L1044.5 1744.5L1046 1754L1047.5 1763.8L1049 1773.6L1050.5 1783.1L1052 1791.9L1053.5 1799.9L1055.1 1806.6L1056.6 1811.8L1058.1 1815.1L1059.6 1816.3L1061.2 1814.9L1062.7 1811.1L1064.3 1805.1L1065.8 1797.4L1067.4 1788.3L1069 1778.3L1070.5 1767.7L1072.1 1756.9L1073.6 1746.3L1075.2 1736.3L1076.8 1727.2L1078.3 1719.5L1079.9 1713.5L1081.4 1709.7L1083 1708.3L1084.6 1709.7L1086.1 1713.7L1087.7 1719.9L1089.2 1728L1090.8 1737.5L1092.3 1748.2L1093.9 1759.6L1095.5 1771.3L1097 1783.1L1098.6 1794.5L1100.1 1805.2L1101.7 1814.7L1103.2 1822.8L1104.8 1829L1106.3 1833L1107.9 1834.4L1109.4 1832.7L1110.9 1828L1112.4 1820.8L1113.9 1811.5L1115.4 1800.5L1116.9 1788.4L1118.4 1775.6L1120 1762.5L1121.5 1749.7L1123 1737.6L1124.5 1726.6L1126 1717.3L1127.5 1710.1L1129 1705.4L1130.5 1703.7L1132 1705.4L1133.5 1710.2L1135 1717.7L1136.5 1727.4L1138 1738.9L1139.5 1751.8L1141 1765.5L1142.5 1779.7L1144.1 1793.8L1145.6 1807.5L1147.1 1820.4L1148.6 1831.9L1150.1 1841.6L1151.6 1849.1L1153.1 1853.9L1154.6 1855.6L1156.2 1853.6L1157.7 1847.9L1159.3 1839.1L1160.8 1827.8L1162.4 1814.5L1163.9 1799.8L1165.5 1784.2L1167 1768.4L1168.6 1752.8L1170.1 1738.1L1171.7 1724.8L1173.2 1713.5L1174.8 1704.7L1176.3 1699L1177.9 1697L1179.4 1699.2L1180.9 1705.4L1182.4 1714.9L1183.9 1727.2L1185.4 1741.6L1186.9 1757.6L1188.4 1774.5L1189.9 1791.6L1191.4 1808.5L1192.9 1824.5L1194.4 1838.9L1195.9 1851.2L1197.4 1860.7L1198.9 1866.9L1200.4 1869.1L1201.9 1867L1203.4 1861.1L1204.9 1851.9L1206.5 1840.1L1208 1826L1209.5 1810.3L1211 1793.5L1212.5 1776.2L1214 1758.8L1215.5 1742L1217 1726.3L1218.5 1712.2L1220.1 1700.4L1221.6 1691.2L1223.1 1685.3L1224.6 1683.2L1226.1 1685.8L1227.6 1693L1229.1 1704.1L1230.6 1718.5L1232.1 1735.3L1233.6 1754L1235.1 1773.7L1236.7 1793.7L1238.2 1813.4L1239.7 1832.1L1241.2 1848.9L1242.7 1863.3L1244.2 1874.4L1245.7 1881.6L1247.2 1884.2L1248.8 1881.4L1250.4 1873.6L1251.9 1861.6L1253.5 1846L1255.1 1827.8L1256.7 1807.6L1258.3 1786.3L1259.8 1764.5L1261.4 1743.2L1263 1723L1264.6 1704.8L1266.2 1689.2L1267.7 1677.2L1269.3 1669.4L1270.9 1666.6L1272.4 1670L1274 1679.5L1275.5 1694L1277.1 1712.6L1278.6 1734.3L1280.2 1758L1281.7 1782.7L1283.2 1807.4L1284.8 1831.1L1286.3 1852.8L1287.9 1871.4L1289.4 1885.9L1291 1895.4L1292.5 1898.8L1294.1 1895.6L1295.7 1886.4L1297.2 1872.3L1298.8 1854.1L1300.4 1832.8L1302 1809.1L1303.6 1784.2L1305.1 1758.7L1306.7 1733.8L1308.3 1710.1L1309.9 1688.8L1311.5 1670.6L1313 1656.5L1314.6 1647.3L1316.2 1644.1L1317.8 1648L1319.3 1659.1L1320.9 1676L1322.5 1697.7L1324 1722.9L1325.6 1750.5L1327.2 1779.2L1328.7 1808L1330.3 1835.6L1331.8 1860.8L1333.4 1882.5L1335 1899.4L1336.5 1910.5L1338.1 1914.4L1339.6 1910.6L1341.1 1900.1L1342.6 1883.7L1344.1 1862.6L1345.6 1837.8L1347.1 1810.5L1348.6 1781.5L1350.2 1752L1351.7 1723L1353.2 1695.7L1354.7 1670.9L1356.2 1649.8L1357.7 1633.4L1359.2 1622.9L1360.7 1619.1L1362.3 1623.6L1363.9 1636.1L1365.5 1655.3L1367.1 1680L1368.7 1708.6L1370.3 1739.9L1371.8 1772.6L1373.4 1805.3L1375 1836.6L1376.6 1865.2L1378.2 1889.9L1379.8 1909.1L1381.4 1921.6L1383 1926.1L1384.5 1921.9L1386 1910.1L1387.5 1891.9L1389.1 1868.4L1390.6 1840.8L1392.1 1810.3L1393.6 1778.1L1395.1 1745.2L1396.6 1713L1398.1 1682.5L1399.6 1654.9L1401.2 1631.4L1402.7 1613.2L1404.2 1601.4L1405.7 1597.2L1407.3 1602.1L1408.9 1615.7L1410.4 1636.6L1412 1663.4L1413.6 1694.6L1415.2 1728.7L1416.8 1764.2L1418.3 1799.8L1419.9 1833.9L1421.5 1865.1L1423.1 1891.9L1424.6 1912.8L1426.2 1926.4L1427.8 1931.3L1429.3 1926.2L1430.9 1911.9L1432.5 1890L1434 1862L1435.5 1829.3L1437.1 1793.6L1438.7 1756.4L1440.2 1719.2L1441.8 1683.5L1443.3 1650.8L1444.8 1622.8L1446.4 1600.9L1448 1586.6L1449.5 1581.5L1451.1 1586.7L1452.7 1601.2L1454.3 1623.5L1455.8 1652L1457.4 1685.2L1459 1721.5L1460.6 1759.4L1462.2 1797.3L1463.8 1833.6L1465.4 1866.8L1466.9 1895.3L1468.5 1917.6L1470.1 1932.1L1471.7 1937.3L1473.2 1932L1474.8 1917.1L1476.3 1894.3L1477.9 1865.1L1479.4 1831.2L1481 1794L1482.5 1755.3L1484 1716.6L1485.6 1679.4L1487.1 1645.5L1488.7 1616.3L1490.2 1593.5L1491.8 1578.6L1493.3 1573.3L1494.9 1578.6L1496.5 1593.6L1498 1616.5L1499.6 1645.9L1501.2 1680L1502.8 1717.4L1504.3 1756.3L1505.9 1795.2L1507.5 1832.6L1509.1 1866.7L1510.7 1896.1L1512.2 1919L1513.8 1934L1515.4 1939.3L1516.9 1934L1518.5 1919.3L1520 1896.7L1521.5 1867.8L1523.1 1834.1L1524.6 1797.3L1526.2 1758.9L1527.7 1720.6L1529.2 1683.8L1530.8 1650.1L1532.3 1621.2L1533.8 1598.6L1535.4 1583.9L1536.9 1578.6L1538.5 1583.7L1540 1597.9L1541.6 1619.8L1543.2 1647.7L1544.7 1680.2L1546.3 1715.8L1547.8 1752.9L1549.4 1790L1551 1825.6L1552.5 1858.1L1554.1 1886L1555.7 1907.9L1557.2 1922.1L1558.8 1927.2L1560.4 1921.5L1562 1905.8L1563.6 1881.8L1565.2 1851.5L1566.8 1816.5L1568.4 1778.8L1570 1740.1L1571.6 1702.4L1573.2 1667.4L1574.8 1637.1L1576.4 1613.1L1578 1597.4L1579.6 1591.7L1581.2 1596.3L1582.7 1609.3L1584.3 1629.2L1585.9 1654.7L1587.4 1684.3L1589 1716.7L1590.5 1750.6L1592.1 1784.4L1593.7 1816.8L1595.2 1846.4L1596.8 1871.9L1598.4 1891.8L1599.9 1904.8L1601.5 1909.4L1603.1 1904.4L1604.7 1890.5L1606.3 1869.3L1607.9 1842.4L1609.5 1811.4L1611.1 1778L1612.7 1743.9L1614.3 1710.5L1615.9 1679.5L1617.5 1652.6L1619.1 1631.4L1620.7 1617.5L1622.3 1612.5L1623.9 1616.5L1625.4 1627.7L1627 1644.8L1628.6 1666.7L1630.1 1692.3L1631.7 1720.2L1633.2 1749.3L1634.8 1778.4L1636.4 1806.3L1637.9 1831.9L1639.5 1853.8L1641.1 1870.9L1642.6 1882.1L1644.2 1886.1L1645.8 1881.9L1647.3 1870.2L1648.9 1852.3L1650.4 1829.6L1652 1803.5L1653.6 1775.4L1655.1 1746.6L1656.7 1718.5L1658.3 1692.4L1659.8 1669.7L1661.4 1651.8L1662.9 1640.1L1664.5 1635.9L1666.1 1639.2L1667.7 1648.3L1669.3 1662.3L1670.8 1680.2L1672.4 1701L1674 1723.8L1675.6 1747.6L1677.2 1771.4L1678.8 1794.2L1680.4 1815L1681.9 1832.9L1683.5 1846.9L1685.1 1856L1686.7 1859.3L1688.3 1856L1689.8 1846.7L1691.4 1832.6L1693 1814.7L1694.5 1794.1L1696.1 1771.9L1697.7 1749.2L1699.3 1727L1700.8 1706.4L1702.4 1688.5L1704 1674.4L1705.5 1665.1L1707.1 1661.8L1708.7 1664.2L1710.3 1671L1711.8 1681.4L1713.4 1694.8L1715 1710.3L1716.6 1727.3L1718.2 1745L1719.7 1762.7L1721.3 1779.7L1722.9 1795.2L1724.5 1808.6L1726 1819L1727.6 1825.8L1729.2 1828.2L1730.7 1826.2L1732.3 1820.6L1733.8 1812.1L1735.3 1801.1L1736.8 1788.4L1738.4 1774.5L1739.9 1760L1741.4 1745.4L1743 1731.5L1744.5 1718.8L1746 1707.8L1747.5 1699.3L1749.1 1693.7L1750.6 1691.7L1752.2 1693.2L1753.7 1697.2L1755.3 1703.4L1756.8 1711.4L1758.4 1720.7L1759.9 1730.9L1761.5 1741.5L1763.1 1752L1764.6 1762.2L1766.2 1771.5L1767.7 1779.5L1769.3 1785.7L1770.8 1789.7L1772.4 1791.2L1774 1790.2L1775.5 1787.3L1777.1 1782.9L1778.7 1777.2L1780.2 1770.7L1781.8 1763.5L1783.3 1756L1784.9 1748.5L1786.5 1741.3L1788 1734.8L1789.6 1729.1L1791.2 1724.7L1792.7 1721.8L1794.3 1720.8L1795.8 1721.3L1797.3 1722.7L1798.8 1724.8L1800.3 1727.6L1801.8 1730.7L1803.3 1734.2L1804.8 1737.8L1806.4 1741.5L1807.9 1745L1809.4 1748.1L1810.9 1750.9L1812.4 1753L1813.9 1754.4L1815.4 1754.9L1817 1754.7L1818.5 1754.2L1820.1 1753.4L1821.6 1752.4L1823.2 1751.1L1824.7 1749.7L1826.3 1748.2L1827.8 1746.6L1829.4 1745L1830.9 1743.4L1832.5 1741.9L1834 1740.5L1835.6 1739.2L1837.1 1738.2L1838.7 1737.4L1840.2 1736.9L1841.8 1736.7L1843.3 1736.8L1844.8 1736.9L1846.3 1737.1L1847.8 1737.4L1849.3 1737.8L1850.9 1738.1L1852.4 1738.4L1853.9 1738.8L1855.4 1739L1856.9 1739.3L1858.4 1739.4L1859.9 1739.5L1861.4 1739.6L1862.9 1739.6L1864.5 1739.7L1866 1739.7L1867.5 1739.8L1869 1739.8L1870.5 1739.8L1872 1739.9L1873.5 1739.9L1875 1740L1876.6 1740L1878.1 1740.1L1879.6 1740.1L1881.1 1740.2L1882.6 1740.3L1884.1 1740.4L1885.6 1740.5L1887.1 1740.6L1888.6 1740.7L1890.2 1740.8L1891.7 1741L1893.2 1741.1L1894.7 1741.3L1896.2 1741.4L1897.7 1741.6L1899.2 1741.7L1900.7 1741.9L1902.2 1742L1903.8 1742.2L1905.3 1742.3L1906.8 1742.5L1908.3 1742.6L1909.8 1742.8L1911.3 1742.9L1912.8 1743L1914.3 1743.2L1915.8 1743.3L1917.3 1743.4L1918.8 1743.6L1920.3 1743.7L1921.8 1743.8L1923.3 1743.9L1924.8 1744.1L1926.3 1744.2L1927.9 1744.3L1929.4 1744.4L1930.9 1744.6L1932.4 1744.7L1933.9 1744.8L1935.4 1744.9L1936.9 1745.1L1938.4 1745.2L1939.9 1745.3L1941.4 1745.4L1942.9 1745.5L1944.4 1745.6L1945.9 1745.7L1947.4 1745.8L1949 1745.9L1950.5 1746.1L1952 1746.2L1953.5 1746.3L1955 1746.4L1956.5 1746.5L1958 1746.6L1959.5 1746.7L1961 1746.8L1962.5 1746.9L1964 1747L1965.6 1747L1967.1 1747.1L1968.6 1747.2L1970.1 1747.3L1971.6 1747.4L1973.2 1747.5L1974.8 1747.6L1976.3 1747.7L1977.9 1747.8L1979.5 1747.9L1981.1 1748L1982.6 1748.1L1984.2 1748.2L1985.8 1748.3L1987.4 1748.3L1989 1748.4L1990.5 1748.5L1992.1 1748.6L1993.7 1748.6L1995.3 1748.7L1996.8 1748.7L1998.4 1748.8L2000 1748.8L2001.5 1748.8L2003 1748.8L2004.6 1748.9L2006.1 1748.9L2007.6 1748.9L2009.1 1748.9L2010.6 1748.9L2012.2 1749L2013.7 1749L2015.2 1749L2016.7 1749L2018.2 1749L2019.8 1749L2021.3 1749L2022.8 1749.1L2024.3 1749.1L2025.8 1749.1L2027.3 1749.1L2028.9 1749.1L2030.4 1749.1L2031.9 1749.1L2033.4 1749.1L2034.9 1749.1L2036.5 1749.2L2038 1749.2L2039.5 1749.2L2041 1749.2L2042.5 1749.2L2044.1 1749.2L2045.6 1749.2L2047.1 1749.2L2048.6 1749.2L2050.1 1749.2L2051.7 1749.2L2053.2 1749.2L2054.7 1749.2L2056.2 1749.2L2057.7 1749.2L2059.3 1749.2L2060.8 1749.2L2062.3 1749.2L2063.8 1749.2L2065.4 1749.2L2066.9 1749.1L2068.4 1749.1L2069.9 1749.1L2071.4 1749.1L2073 1749.1L2074.5 1749L2076 1749L2077.5 1749L2079.1 1749L2080.6 1748.9L2082.1 1748.9L2083.6 1748.9L2085.1 1748.8L2086.7 1748.8L2088.2 1748.8L2089.7 1748.7L2091.2 1748.7L2092.8 1748.7L2094.3 1748.6L2095.8 1748.6L2097.3 1748.6L2098.9 1748.5L2100.4 1748.5L2101.9 1748.4L2103.4 1748.4L2104.9 1748.4L2106.5 1748.3L2108 1748.3L2109.5 1748.2L2111 1748.2L2112.6 1748.2L2114.1 1748.1L2115.6 1748.1L2117.1 1748L2118.6 1748L2120.2 1747.9L2121.7 1747.9L2123.2 1747.9L2124.7 1747.8L2126.3 1747.8L2127.8 1747.7L2129.3 1747.7L2130.8 1747.7L2132.3 1747.6L2133.9 1747.6L2135.4 1747.5L2136.9 1747.5L2138.4 1747.4L2140 1747.4L2141.5 1747.3L2143 1747.3L2144.5 1747.2L2146.1 1747.2L2147.6 1747.1L2149.1 1747.1L2150.6 1747L2152.2 1747L2153.7 1746.9L2155.2 1746.9L2156.7 1746.8L2158.3 1746.7L2159.8 1746.7L2161.3 1746.6L2162.8 1746.6L2164.4 1746.5L2165.9 1746.4L2167.4 1746.4L2168.9 1746.3L2170.5 1746.3L2172 1746.2L2173.5 1746.1L2175 1746.1L2176.6 1746L2178.1 1745.9L2179.6 1745.9L2181.1 1745.8L2182.7 1745.7L2184.2 1745.7L2185.7 1745.6L2187.2 1745.6L2188.8 1745.5L2190.3 1745.4L2191.8 1745.4L2193.3 1745.3L2194.9 1745.3L2196.4 1745.2L2197.9 1745.1L2199.4 1745.1L2201 1745L2202.5 1745L2204 1744.9L2205.5 1744.8L2207 1744.8L2208.6 1744.7L2210.1 1744.7L2211.6 1744.6L2213.1 1744.5L2214.7 1744.5L2216.2 1744.4L2217.7 1744.4L2219.2 1744.3L2220.7 1744.2L2222.3 1744.2L2223.8 1744.1L2225.3 1744.1L2226.8 1744L2228.4 1743.9L2229.9 1743.9L2231.4 1743.8L2232.9 1743.8L2234.4 1743.7L2236 1743.6L2237.5 1743.6L2239 1743.5L2240.5 1743.5L2242.1 1743.4L2243.6 1743.3L2245.1 1743.3L2246.6 1743.2L2248.2 1743.2L2249.7 1743.1L2251.2 1743L2252.7 1743L2254.2 1742.9L2255.8 1742.9L2257.3 1742.8L2258.8 1742.8L2260.3 1742.7L2261.9 1742.6L2263.4 1742.6L2264.9 1742.5L2266.4 1742.5L2267.9 1742.4L2269.5 1742.4L2271 1742.3L2272.5 1742.3L2274 1742.2L2275.6 1742.2L2277.1 1742.1L2278.6 1742.1L2280.1 1742.1L2281.7 1742L2283.2 1742L2284.7 1741.9L2286.3 1741.9L2287.8 1741.8L2289.3 1741.8L2290.9 1741.8L2292.4 1741.7L2293.9 1741.7L2295.5 1741.7L2297 1741.6L2298.5 1741.6L2300.1 1741.5L2301.6 1741.5L2303.1 1741.5L2304.7 1741.4L2306.2 1741.4L2307.7 1741.4L2309.3 1741.3L2310.8 1741.3L2312.3 1741.3L2313.9 1741.2L2315.4 1741.2L2317 1741.2L2318.6 1741.1L2320.2 1741.1L2321.8 1741.1L2323.4 1741L2325 1741"/>
<path class="r" clip-path="url(#c2)" d="M316 1747L323.8 1746.1L355.5 1742M401 1740.2L432.4 1748.4M475.7 1756.7L519.2 1757.4M564.8 1751.4L596.4 1747M615 1743L658.5 1737.5M714.7 1730.9L759.5 1730.9M803.7 1734.2L834.2 1738.3M881 1748.1L910.2 1755.1L944.6 1761.8M990.9 1768.6L1024.6 1769.4M1070.1 1766.1L1102.6 1761.4M1144.1 1751.6L1174 1744.1M1198.8 1738L1239.5 1730.5M1298.5 1725.6L1332.3 1726.4M1377 1732.8L1407.5 1737.2M1457.7 1747.4L1529.5 1756.2M1585.6 1756.5L1619.6 1754.4M1666.6 1749.7L1705.3 1745.6M1753.1 1740.2L1824.5 1735.6M1876.1 1738.6L1907.5 1745.4M1955.3 1753.4L1999.8 1756.4M2045.3 1754.3L2114.4 1744.4M2157.3 1735L2188.3 1730.5M2241.3 1725.3L2274.9 1725.1"/>
<rect class="lb" x="1937.5" y="1492" width="356" height="194"/>
<path class="k" d="M1947.5 1545H2112.5"/>
<path class="r" d="M1947.5 1635.5h45M2054.5 1635.5h45"/>
<text class="lg" x="2129.6" y="1568">PI</text>
<text class="lg" x="2129.6" y="1658.5">ROC</text>
<text class="tl" text-anchor="middle" transform="scale(0.93 1)" y="1589.8"><tspan x="294.95">5</tspan></text>
<text class="tl" text-anchor="middle" transform="scale(0.93 1)" y="1771.8"><tspan x="294.95">0</tspan></text>
<text class="tl" text-anchor="middle" transform="scale(0.93 1)" y="1953.8"><tspan x="259.03">−</tspan><tspan x="294.95">5</tspan></text>
<text class="tl" text-anchor="middle" transform="scale(0.93 1)" y="2108.5"><tspan x="348.39">0</tspan></text>
<text class="tl" text-anchor="middle" transform="scale(0.93 1)" y="2108.5"><tspan x="884.41">2</tspan></text>
<text class="tl" text-anchor="middle" transform="scale(0.93 1)" y="2108.5"><tspan x="1420.43">4</tspan></text>
<text class="tl" text-anchor="middle" transform="scale(0.93 1)" y="2108.5"><tspan x="1956.45">6</tspan></text>
<text class="tl" text-anchor="middle" transform="scale(0.93 1)" y="2108.5"><tspan x="2492.47">8</tspan></text>
<text class="ti" text-anchor="middle" transform="translate(81.4 1747.3) rotate(-90)">Synchronization error</text>
<text class="ti" text-anchor="middle" transform="translate(171.7 1747.5) rotate(-90)">(mm)</text>
</g>
<text class="ti" text-anchor="middle" x="1321" y="2177.5">Time (s)</text>
</svg>
</body>
</html>
